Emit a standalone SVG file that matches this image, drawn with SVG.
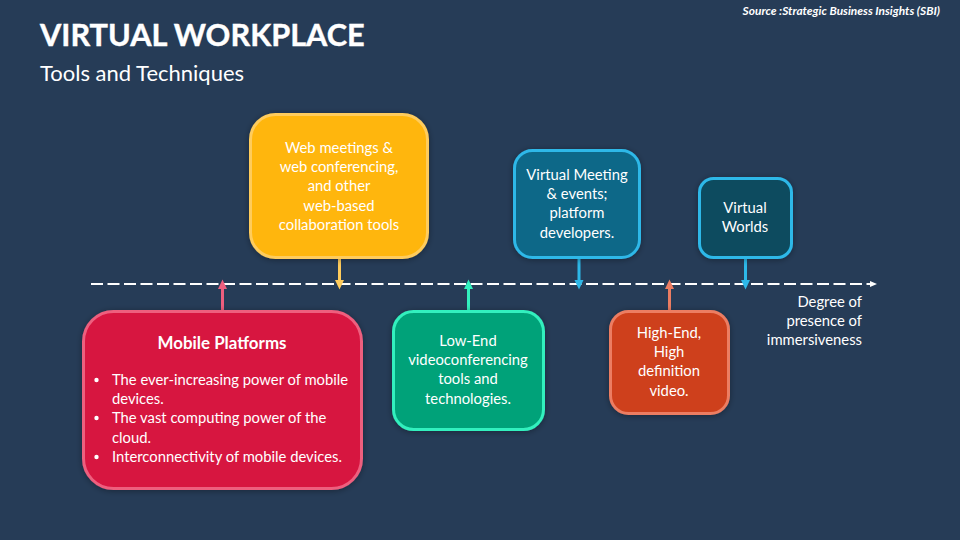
<svg xmlns="http://www.w3.org/2000/svg" width="960" height="540" viewBox="0 0 960 540">
<style>
text{font-family:Lato,"Liberation Sans",sans-serif;fill:#fff}
.b{font-size:14.800px;text-anchor:middle}
.l{font-size:14.800px}
.r{font-size:14.800px;text-anchor:end}
.box{stroke-width:3}
.c{fill:none;stroke-width:3}
</style>
<defs>
<filter id="sh" x="-10%" y="-10%" width="120%" height="120%"><feDropShadow dx="0" dy="1" stdDeviation="3" flood-color="#000" flood-opacity=".35"/></filter>
</defs>
<rect width="960" height="540" fill="#263C57"/>
<text x="40" y="46" font-size="30.700" font-weight="700" stroke="#fff" stroke-width=".4">VIRTUAL WORKPLACE</text>
<text x="40" y="80.500" font-size="22">Tools and Techniques</text>
<text x="940" y="15" font-size="11.900" font-weight="700" font-style="italic" text-anchor="end">Source :Strategic Business Insights (SBI)</text>
<g id="connectors">
<path d="M91 284H871" fill="none" stroke="#fff" stroke-width="2" stroke-dasharray="12 4.500"/>
<path d="M870 281L877 284L870 287Z" fill="#fff"/>
<path d="M222.500 310V288" class="c" stroke="#EE5F7E"/><path d="M222.500 279.500L218 289H227Z" fill="#EE5F7E"/>
<path d="M339.500 259V281" class="c" stroke="#FFCC5C"/><path d="M339.500 289.500L335 280H344Z" fill="#FFCC5C"/>
<path d="M468.500 310V288" class="c" stroke="#33F0BE"/><path d="M468.500 279.500L464 289H473Z" fill="#33F0BE"/>
<path d="M579 259V281" class="c" stroke="#2DB8E8"/><path d="M579 289.500L574.500 280H583.500Z" fill="#2DB8E8"/>
<path d="M669.500 310V288" class="c" stroke="#EC7D62"/><path d="M669.500 279.500L665 289H674Z" fill="#EC7D62"/>
<path d="M745.500 259V281" class="c" stroke="#2DB8E8"/><path d="M745.500 289.500L741 280H750Z" fill="#2DB8E8"/>
</g>
<g id="node-mobile">
<rect class="box" x="83.500" y="311.500" width="278" height="177" rx="30" fill="#D71440" stroke="#EE5F7E" filter="url(#sh)"/>
<text x="222" y="349" font-weight="700" font-size="16.900" text-anchor="middle">Mobile Platforms</text>
<circle cx="96.500" cy="380" r="2.200" fill="#fff"/><circle cx="96.500" cy="418" r="2.200" fill="#fff"/><circle cx="96.500" cy="457" r="2.200" fill="#fff"/>
<text class="l" x="112" y="385">The ever-increasing power of mobile</text>
<text class="l" x="112" y="404">devices.</text>
<text class="l" x="112" y="423">The vast computing power of the</text>
<text class="l" x="112" y="443">cloud.</text>
<text class="l" x="112" y="462">Interconnectivity of mobile devices.</text>
</g>
<g id="node-web">
<rect class="box" x="250.500" y="114.500" width="177" height="143" rx="25" fill="#FFB60F" stroke="#FFCC5C" filter="url(#sh)"/>
<text class="b" x="339" y="153">Web meetings &amp;</text>
<text class="b" x="339" y="172">web conferencing,</text>
<text class="b" x="339" y="191">and other</text>
<text class="b" x="339" y="211">web-based</text>
<text class="b" x="339" y="230">collaboration tools</text>
</g>
<g id="node-meeting">
<rect class="box" x="514.500" y="150.500" width="125" height="107" rx="18" fill="#0E6888" stroke="#2DB8E8" filter="url(#sh)"/>
<text class="b" x="577" y="180">Virtual Meeting</text>
<text class="b" x="577" y="199">&amp; events;</text>
<text class="b" x="577" y="218">platform</text>
<text class="b" x="577" y="238">developers.</text>
</g>
<g id="node-worlds">
<rect class="box" x="699.500" y="178.500" width="92" height="79" rx="14" fill="#0A4C5F" stroke="#2DB8E8" filter="url(#sh)"/>
<text class="b" x="745" y="213">Virtual</text>
<text class="b" x="745" y="232">Worlds</text>
</g>
<g id="node-lowend">
<rect class="box" x="393.500" y="311.500" width="150" height="118" rx="20" fill="#06A279" stroke="#33F0BE" filter="url(#sh)"/>
<text class="b" x="468" y="346">Low-End</text>
<text class="b" x="468" y="365">videoconferencing</text>
<text class="b" x="468" y="384">tools and</text>
<text class="b" x="468" y="404">technologies.</text>
</g>
<g id="node-highend">
<rect class="box" x="610.500" y="311.500" width="118" height="102" rx="18" fill="#CE401B" stroke="#EC7D62" filter="url(#sh)"/>
<text class="b" x="669" y="338">High-End,</text>
<text class="b" x="669" y="357">High</text>
<text class="b" x="669" y="376">definition</text>
<text class="b" x="669" y="396">video.</text>
</g>
<g id="axis-label">
<text class="r" x="862" y="307">Degree of</text>
<text class="r" x="862" y="326">presence of</text>
<text class="r" x="862" y="345">immersiveness</text>
</g>
</svg>
